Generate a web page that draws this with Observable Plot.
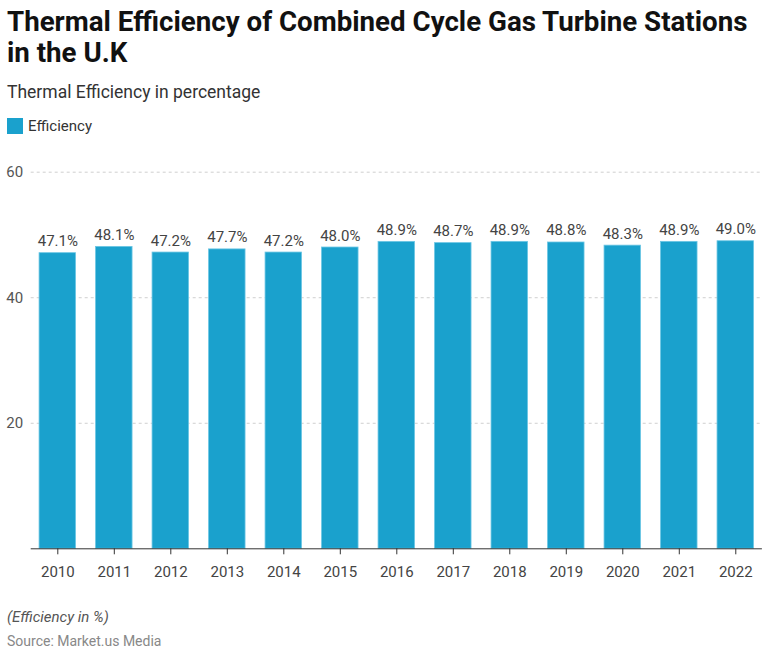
<!DOCTYPE html>
<html>
<head>
<meta charset="utf-8">
<script src="https://cdn.jsdelivr.net/npm/d3@7"></script>
<script src="https://cdn.jsdelivr.net/npm/@observablehq/plot@0.6"></script>
<style>
  body { margin: 0; background: #fff; font-family: Roboto, "Noto Sans", sans-serif; }
  #wrap { position: relative; width: 768px; height: 657px; overflow: hidden; }
  #title { position: absolute; left: 7px; top: 6px; font-size: 27.7px; font-weight: 700; line-height: 31px; color: #111; margin: 0; width: 752px; }
  #subtitle { position: absolute; left: 7px; top: 82px; font-size: 17.5px; color: #333; }
  #legend { position: absolute; left: 7px; top: 117px; font-size: 15px; color: #333; display: flex; align-items: center; }
  #legend .sw { width: 16px; height: 16px; background: #1aa1cd; margin-right: 5px; }
  #chart { position: absolute; left: 0; top: 150px; }
  #note { position: absolute; left: 7px; top: 608px; font-size: 15px; font-style: italic; color: #555; }
  #source { position: absolute; left: 7px; top: 633px; font-size: 14px; color: #888; }
</style>
</head>
<body>
<div id="wrap">
  <div id="title">Thermal Efficiency of Combined Cycle Gas Turbine Stations in the U.K</div>
  <div id="subtitle">Thermal Efficiency in percentage</div>
  <div id="legend"><div class="sw"></div><span>Efficiency</span></div>
  <div id="chart"></div>
  <div id="note">(Efficiency in %)</div>
  <div id="source">Source: Market.us Media</div>
</div>
<script>
const years = ["2010","2011","2012","2013","2014","2015","2016","2017","2018","2019","2020","2021","2022"];
const efficiency = [47.1, 48.1, 47.2, 47.7, 47.2, 48.0, 48.9, 48.7, 48.9, 48.8, 48.3, 48.9, 49.0];
const yTicks = [20, 40, 60];

const data = years.map((y, i) => ({year: y, value: efficiency[i]}));

const chart = Plot.plot({
  width: 768,
  height: 440,
  marginTop: 21.7,
  marginBottom: 41.7,
  marginLeft: 30.7,
  marginRight: 6.1,
  style: {fontFamily: "Roboto, sans-serif", fontSize: "15px", color: "#444", background: "#fff"},
  x: {domain: years, paddingInner: 0.354, paddingOuter: 0.148, round: false, label: null},
  y: {domain: [0, 60], label: null},
  marks: [
    Plot.gridY(yTicks, {stroke: "#cfcfcf", strokeOpacity: 1, strokeDasharray: "3,3"}),
    Plot.barY(data, {x: "year", y: "value", fill: "#1aa1cd", stroke: "#6cc6e4", strokeWidth: 0.8}),
    Plot.text(data, {x: "year", y: "value", text: d => d.value.toFixed(1) + "%", dy: -7, lineAnchor: "bottom", fill: "#444", fontSize: 15}),
    Plot.ruleY([0], {stroke: "#333"}),
    Plot.axisY({ticks: yTicks, tickSize: 0, tickPadding: 8, fontSize: 15, fill: "#555", label: null}),
    Plot.axisX({tickSize: 6, tickPadding: 12, fontSize: 15, fill: "#444", stroke: "#333", label: null})
  ]
});
document.getElementById("chart").appendChild(chart);
</script>
</body>
</html>
